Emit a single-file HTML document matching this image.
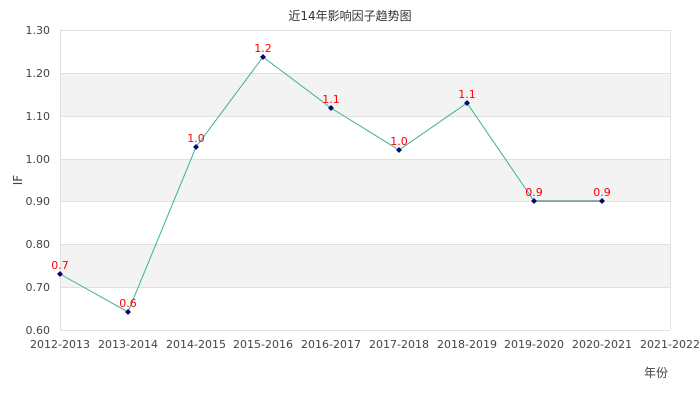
<!DOCTYPE html><html><head><meta charset="utf-8"><style>body{margin:0;background:#fff}svg{display:block}text{font-family:"DejaVu Sans","Liberation Sans","Noto Sans CJK SC",sans-serif}</style></head><body>
<svg width="700" height="400" xmlns="http://www.w3.org/2000/svg">
<rect width="700" height="400" fill="#fff"/>
<text x="350" y="20" font-size="12" fill="#333" text-anchor="middle">近14年影响因子趋势图</text>
<g fill="#f3f3f3"><rect x="60" y="73" width="610" height="43"/><rect x="60" y="159" width="610" height="42"/><rect x="60" y="244" width="610" height="43"/></g>
<g stroke="#e0e0e0" stroke-width="1"><line x1="60" x2="670" y1="30.5" y2="30.5"/><line x1="60" x2="670" y1="73.5" y2="73.5"/><line x1="60" x2="670" y1="116.5" y2="116.5"/><line x1="60" x2="670" y1="159.5" y2="159.5"/><line x1="60" x2="670" y1="201.5" y2="201.5"/><line x1="60" x2="670" y1="244.5" y2="244.5"/><line x1="60" x2="670" y1="287.5" y2="287.5"/><line x1="60" x2="670" y1="330.5" y2="330.5"/><line x1="60.5" x2="60.5" y1="30" y2="330"/><line x1="670.5" x2="670.5" y1="30" y2="330"/></g>
<g font-size="11" fill="#444" text-anchor="end"><text x="50" y="34">1.30</text><text x="50" y="77">1.20</text><text x="50" y="120">1.10</text><text x="50" y="163">1.00</text><text x="50" y="205">0.90</text><text x="50" y="248">0.80</text><text x="50" y="291">0.70</text><text x="50" y="334">0.60</text></g>
<text x="22" y="180" font-size="12" fill="#444" text-anchor="middle" transform="rotate(-90 22 180)">IF</text>
<g font-size="11" fill="#444" text-anchor="middle"><text x="60" y="348">2012-2013</text><text x="128" y="348">2013-2014</text><text x="196" y="348">2014-2015</text><text x="263" y="348">2015-2016</text><text x="331" y="348">2016-2017</text><text x="399" y="348">2017-2018</text><text x="467" y="348">2018-2019</text><text x="534" y="348">2019-2020</text><text x="602" y="348">2020-2021</text><text x="670" y="348">2021-2022</text></g>
<text x="656" y="377" font-size="12" fill="#444" text-anchor="middle">年份</text>
<polyline fill="none" stroke="#3ab394" stroke-width="1" points="60,274 128,312 196,147 263,57 331,108 399,150 467,103 534,201"/>
<line x1="534" y1="201" x2="602" y2="201" stroke="#1f6e6a" stroke-width="1"/>
<g fill="#0000cc" stroke="#000" stroke-width="0.6">
<path d="M60 271.5l2.5 2.5-2.5 2.5-2.5-2.5z"/><path d="M128 309.5l2.5 2.5-2.5 2.5-2.5-2.5z"/><path d="M196 144.5l2.5 2.5-2.5 2.5-2.5-2.5z"/><path d="M263 54.5l2.5 2.5-2.5 2.5-2.5-2.5z"/><path d="M331 105.5l2.5 2.5-2.5 2.5-2.5-2.5z"/><path d="M399 147.5l2.5 2.5-2.5 2.5-2.5-2.5z"/><path d="M467 100.5l2.5 2.5-2.5 2.5-2.5-2.5z"/><path d="M534 198.5l2.5 2.5-2.5 2.5-2.5-2.5z"/><path d="M602 198.5l2.5 2.5-2.5 2.5-2.5-2.5z"/></g>
<g font-size="11" fill="#ff0000" text-anchor="middle"><text x="60" y="269">0.7</text><text x="128" y="307">0.6</text><text x="196" y="142">1.0</text><text x="263" y="52">1.2</text><text x="331" y="103">1.1</text><text x="399" y="145">1.0</text><text x="467" y="98">1.1</text><text x="534" y="196">0.9</text><text x="602" y="196">0.9</text></g>
</svg></body></html>
